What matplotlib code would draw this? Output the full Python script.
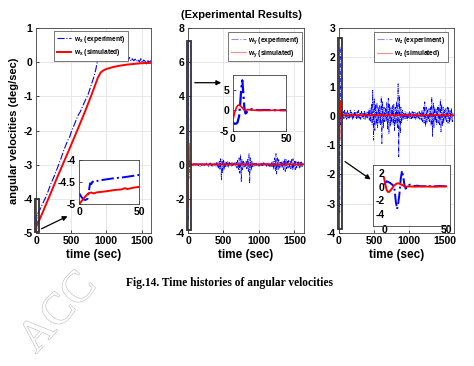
import numpy as np
import matplotlib
matplotlib.use("Agg")
import matplotlib.pyplot as plt
import matplotlib.patches as mpatches
import matplotlib.patheffects as pe

plt.rcParams['font.family'] = ['Liberation Sans', 'DejaVu Sans']
plt.rcParams['font.weight'] = 'bold'
plt.rcParams['axes.labelweight'] = 'bold'
plt.rcParams['axes.unicode_minus'] = False
plt.rcParams['mathtext.fontset'] = 'custom'
plt.rcParams['mathtext.rm'] = 'Liberation Sans:bold'
plt.rcParams['mathtext.it'] = 'Liberation Sans:bold'
plt.rcParams['mathtext.bf'] = 'Liberation Sans:bold'

# ---- w_x : zoom window (0..50 s) ----
wx_exp_t0 = [0, 2, 4, 5, 7, 8, 9, 10, 11, 12, 14, 16, 18, 20, 25, 30, 35, 40, 45, 50]
wx_exp_v0 = [-4.76, -4.85, -4.9, -4.91, -4.88, -4.7, -4.53, -4.55, -4.49, -4.5, -4.48, -4.47,
             -4.46, -4.45, -4.43, -4.41, -4.4, -4.38, -4.36, -4.34]
wx_sim_t0 = [0, 2, 4, 6, 8, 10, 12, 14, 16, 20, 25, 30, 35, 38, 40, 45, 50]
wx_sim_v0 = [-5.0, -4.93, -4.86, -4.8, -4.75, -4.74, -4.76, -4.74, -4.73, -4.72, -4.7, -4.68,
             -4.67, -4.64, -4.66, -4.63, -4.61]
# ---- w_x : rest of the run ----
wx_exp_t1 = [100, 150, 200, 250, 300, 350, 400, 430, 460, 480, 500, 550, 600, 630, 660, 700, 740,
             780, 820, 850, 870, 890, 910, 940, 980, 1020, 1060, 1100, 1140, 1180, 1220, 1260, 1290,
             1310, 1330, 1350, 1370, 1390, 1410, 1430, 1450, 1470, 1490, 1510, 1530, 1550, 1570,
             1590, 1610, 1630]
wx_exp_v1 = [-4.12, -3.9, -3.62, -3.38, -3.12, -2.85, -2.55, -2.4, -2.25, -2.18, -2.05, -1.8, -1.55,
             -1.45, -1.3, -1.12, -0.95, -0.7, -0.45, -0.22, 0.0, 0.15, 0.3, 0.45, 0.55, 0.55, 0.5,
             0.42, 0.35, 0.28, 0.22, 0.18, 0.2, 0.06, 0.14, 0.03, 0.1, 0.04, 0.09, 0.02, 0.08, 0.0,
             0.1, -0.02, 0.06, 0.03, -0.05, 0.07, -0.03, 0.05]
wx_sim_t1 = [100, 200, 300, 400, 500, 600, 700, 800, 880, 920, 960, 1000, 1100, 1200, 1300, 1400,
             1500, 1630]
wx_sim_v1 = [-4.37, -3.88, -3.38, -2.9, -2.42, -1.93, -1.43, -0.9, -0.45, -0.3, -0.24, -0.2, -0.14,
             -0.1, -0.07, -0.05, -0.03, -0.02]

# ---- w_y ----
wy_exp_t0 = [0, 1.5, 3, 4.5, 6, 7, 8, 9, 10, 11, 12, 13, 14, 16, 18, 20, 25, 30, 40, 50]
wy_exp_v0 = [-2.9, -3.3, -3.3, -3.0, -1.5, 1.5, 5.0, 7.3, 4.0, 0.4, -0.8, -0.6, -0.1, 0.1, 0.25,
             0.1, 0.0, 0.05, 0.0, 0.0]
wy_sim_t0 = [0, 1, 2, 3, 4, 5, 6, 7, 8, 9, 10, 11, 12, 14, 16, 20, 30, 50]
wy_sim_v0 = [-2.5, -1.5, -0.5, 0.3, 0.9, 1.2, 1.25, 1.1, 0.9, 0.6, 0.3, 0.0, -0.1, 0.15, 0.1, 0.0,
             0.0, 0.0]
# one row = 100 s (10 s samples), starting at t = 60
wy_exp_v1 = [0.05, -0.08, 0.1, -0.05, 0.08, -0.1, 0.06, -0.04, 0.1, -0.08,
             0.05, -0.1, 0.08, -0.05, 0.1, -0.06, 0.04, -0.1, 0.08, -0.06,
             0.1, -0.05, 0.06, -0.1, 0.08, -0.04, 0.1, -0.08, 0.05, -0.1,
             0.08, -0.06, 0.1, -0.1, 0.12, -0.15, 0.15, -0.2, 0.2, -0.3,
             0.35, -0.9, 0.3, -0.5, 0.25, -0.3, 0.2, -0.15, 0.15, -0.12,
             0.2, -0.15, 0.15, -0.1, 0.1, -0.12, 0.12, -0.1, 0.1, -0.08,
             0.12, -0.1, 0.15, -0.2, 0.25, -0.3, 0.4, -0.5, 0.6, -1.0,
             0.35, -0.3, 0.2, -0.15, 0.15, -0.1, 0.2, -0.25, 0.3, -0.4,
             0.65, -1.1, 0.4, -0.35, 0.2, -0.15, 0.1, -0.1, 0.08, -0.06,
             0.1, -0.08, 0.06, -0.1, 0.12, -0.08, 0.1, -0.06, 0.08, -0.1,
             0.12, -0.08, 0.1, -0.06, 0.08, -0.1, 0.1, -0.08, 0.12, -0.1,
             0.1, -0.12, 0.15, -0.15, 0.2, -0.3, 0.4, -0.35, 0.65, -0.55,
             0.4, -0.3, 0.3, -0.2, 0.15, -0.15, 0.2, -0.2, 0.25, -0.3,
             0.3, -0.4, 0.35, -0.25, 0.2, -0.2, 0.25, -0.15, 0.2, -0.25,
             0.3, -0.3, 0.35, -0.25, 0.25, -0.3, 0.2, -0.2, 0.15, -0.15,
             0.2, -0.2, 0.15, -0.15, 0.2, -0.15, 0.1]
wy_sim_t1 = [60, 1630]
wy_sim_v1 = [0.02, 0.02]

# ---- w_z ----
wz_exp_t0 = [0, 2, 4.5, 7, 8.5, 9.5, 10.5, 11.5, 12.5, 13.5, 14.5, 15.5, 16.5, 17.5, 19, 21, 24,
             27, 30, 35, 40, 45, 50]
wz_exp_v0 = [0.3, 0.8, 0.6, 0.25, -0.45, -2.2, -3.3, -2.4, -0.9, 1.2, 2.35, 1.5, 0.2, -0.3, 0.2,
             0.3, 0.1, 0.15, 0.05, 0.1, 0.05, 0.1, 0.05]
wz_sim_t0 = [0, 1, 2, 3, 4, 5, 6.5, 8, 10, 11.5, 13, 14.5, 16, 18, 20, 25, 30, 40, 50]
wz_sim_v0 = [1.3, 0.4, -0.45, -0.75, -0.8, -0.6, -0.25, 0.15, 0.45, 0.5, 0.4, 0.25, 0.1, 0.0,
             0.05, 0.0, 0.05, 0.0, 0.05]
wz_exp_v1 = [0.15, -0.1, 0.2, -0.05, 0.12, -0.12, 0.18, -0.08, 0.1, -0.1,
             0.2, -0.05, 0.15, -0.12, 0.1, -0.1, 0.18, -0.06, 0.12, -0.1,
             0.15, -0.08, 0.2, -0.1, 0.1, -0.12, 0.16, -0.05, 0.12, -0.1,
             0.18, -0.12, 0.1, -0.08, 0.15, -0.1, 0.2, -0.15, 0.25, -0.2,
             0.4, -0.3, 0.88, -0.83, 0.6, -0.5, 0.4, -0.3, 0.45, -0.4,
             0.3, -0.25, 0.35, -0.3, 0.65, -0.95, 0.5, -0.4, 0.3, -0.2,
             0.25, -0.2, 0.45, -0.45, 0.6, -0.6, 0.4, -0.35, 0.3, -0.25,
             0.35, -0.3, 0.4, -0.5, 0.3, -0.3, 0.5, -0.4, 1.1, -1.4,
             0.7, -0.6, 0.3, -0.25, 0.2, -0.15, 0.12, -0.1, 0.15, -0.12,
             0.1, -0.15, 0.12, -0.08, 0.15, -0.12, 0.1, -0.1, 0.15, -0.08,
             0.12, -0.1, 0.15, -0.12, 0.1, -0.1, 0.12, -0.08, 0.15, -0.12,
             0.1, -0.15, 0.2, -0.2, 0.3, -0.25, 0.48, -0.37, 0.3, -0.25,
             0.2, -0.15, 0.25, -0.2, 0.3, -0.35, 0.65, -0.7, 0.45, -0.4,
             0.3, -0.2, 0.25, -0.3, 0.3, -0.25, 0.35, -0.3, 0.55, -0.55,
             0.4, -0.35, 0.3, -0.25, 0.2, -0.15, 0.25, -0.2, 0.3, -0.25,
             0.3, -0.25, 0.2, -0.15, 0.25, -0.2, 0.1]
wz_sim_t1 = [60, 1630]
wz_sim_v1 = [0.02, 0.02]

# sample times of the noisy part (one sample every 10 s)
t_noise = np.arange(60, 1621, 10)

BLUE = '#0000ff'
RED = '#ff0000'
W, H = 474, 366

fig = plt.figure(figsize=(4.74, 3.66), dpi=100)


def fx(px):
    return px / W


def fy(py):
    return 1 - py / H


def add_ax(x0, x1, y0, y1):
    return fig.add_axes((fx(x0), fy(y1), fx(x1) - fx(x0), fy(y0) - fy(y1)))


def style(ax, grid=True):
    for s in ax.spines.values():
        s.set_color('#404040')
        s.set_linewidth(0.6)
    ax.tick_params(direction='in', length=2, width=0.5, labelsize=7.5, pad=2.5)
    if grid:
        ax.grid(True, color='#e3e3e3', linewidth=0.6)
        ax.set_axisbelow(True)


def bold_ticks(ax):
    for lab in ax.get_xticklabels() + ax.get_yticklabels():
        lab.set_fontweight('bold')


# watermark, its top cut off by the chart
fig.text(fx(36), fy(354), 'ACC', rotation=47.7, rotation_mode='anchor',
         ha='left', va='baseline', fontsize=32, family='Liberation Serif',
         weight='normal', color='white', zorder=-3,
         path_effects=[pe.withStroke(linewidth=0.9, foreground='#c2c2c2')])
fig.patches.append(mpatches.Rectangle((0, fy(261)), 1, 1, transform=fig.transFigure,
                                      facecolor='white', edgecolor='none', zorder=-2))

panels = [
    dict(x=(36, 151), ylim=(-5, 1), yt=np.arange(-5, 2, 1), sub='x',
         e0=(wx_exp_t0, wx_exp_v0), e1=(wx_exp_t1, wx_exp_v1),
         s0=(wx_sim_t0, wx_sim_v0), s1=(wx_sim_t1, wx_sim_v1),
         box=(-4.98, -4.0), leg=(0.80, 0.985), thick=True),
    dict(x=(188, 304), ylim=(-4, 8), yt=np.arange(-4, 9, 2), sub='y',
         e0=(wy_exp_t0, wy_exp_v0), e1=(t_noise, wy_exp_v1),
         s0=(wy_sim_t0, wy_sim_v0), s1=(wy_sim_t1, wy_sim_v1),
         box=(-3.8, 7.25), leg=(0.985, 0.98), thick=False),
    dict(x=(339, 454), ylim=(-4, 3), yt=np.arange(-4, 4, 1), sub='z',
         e0=(wz_exp_t0, wz_exp_v0), e1=(t_noise, wz_exp_v1),
         s0=(wz_sim_t0, wz_sim_v0), s1=(wz_sim_t1, wz_sim_v1),
         box=(-3.85, 2.67), leg=(0.95, 0.98), thick=False),
]

axes = []
for p in panels:
    ax = add_ax(p['x'][0], p['x'][1], 28, 233)
    style(ax)
    te = list(p['e0'][0]) + list(p['e1'][0])
    ve = list(p['e0'][1]) + list(p['e1'][1])
    ts = list(p['s0'][0]) + list(p['s1'][0])
    vs = list(p['s0'][1]) + list(p['s1'][1])
    if p['thick']:
        ax.plot(te, ve, '-.', color=BLUE, lw=0.8, label=r'w$_x$ (experiment)')
        ax.plot(ts, vs, '-', color=RED, lw=1.4, label=r'w$_x$ (simulated)')
    else:
        ax.plot(te, ve, '-.', color=BLUE, lw=0.5, label=r'w$_%s$ (experiment)' % p['sub'])
        ax.plot(ts, vs, '-', color=RED, lw=1.3, label=r'w$_%s$ (simulated)' % p['sub'])
    ax.set_xlim(0, 1635)
    ax.set_ylim(*p['ylim'])
    ax.set_xticks([0, 500, 1000, 1500])
    ax.set_yticks(p['yt'])
    bold_ticks(ax)
    ax.set_xlabel('time (sec)', fontsize=8.5, labelpad=2, fontweight='bold')
    leg = ax.legend(loc='upper right', bbox_to_anchor=p['leg'], fancybox=False,
                    prop={'size': 4.8, 'weight': 'bold'},
                    framealpha=1, edgecolor='#404040', borderpad=0.4, labelspacing=0.35,
                    handlelength=2.2, handletextpad=0.4, borderaxespad=0)
    leg.get_frame().set_linewidth(0.5)
    if not p['thick']:
        for ln in leg.get_lines():
            ln.set_alpha(0.45)
            ln.set_linewidth(0.8)
    ax.add_patch(mpatches.Rectangle((-15, p['box'][0]), 55, p['box'][1] - p['box'][0],
                                    fill=False, edgecolor='#303030', lw=1.3, clip_on=False,
                                    zorder=5))
    axes.append(ax)

axes[0].set_ylabel('angular velocities (deg/sec)', fontsize=8, labelpad=3, fontweight='bold')

fig.text(fx(241), fy(15), '(Experimental Results)', ha='center', va='center', fontsize=8,
         weight='bold')

# insets
ins1 = add_ax(79.3, 139.3, 160, 204)
style(ins1, grid=False)
ins1.plot(wx_exp_t0, wx_exp_v0, '-.', color=BLUE, lw=1.4)
ins1.plot(wx_sim_t0, wx_sim_v0, '-', color=RED, lw=1.4)
ins1.set_xlim(0, 50)
ins1.set_ylim(-5, -4)
ins1.set_xticks([0, 50])
ins1.set_yticks([-5, -4.5, -4])
ins1.set_yticklabels(['-5', '-4.5', '-4'])
bold_ticks(ins1)

ins2 = add_ax(232.7, 286, 75, 130.7)
style(ins2, grid=False)
ins2.plot(wy_exp_t0, wy_exp_v0, '-.', color=BLUE, lw=1.6)
ins2.plot(wy_sim_t0, wy_sim_v0, '-', color=RED, lw=1.2)
ins2.set_xlim(0, 50)
ins2.set_ylim(-5, 8.6)
ins2.set_xticks([0, 50])
ins2.set_yticks([-5, 0, 5])
bold_ticks(ins2)

ins3 = add_ax(373, 450, 165, 226)
style(ins3, grid=False)
ins3.plot(wz_exp_t0, wz_exp_v0, '-.', color=BLUE, lw=1.4)
ins3.plot(wz_sim_t0, wz_sim_v0, '-', color=RED, lw=1.4)
ins3.set_xlim(-8.9, 53.2)
ins3.set_ylim(-5.8, 3.2)
ins3.set_xticks([0, 50])
ins3.set_yticks([-4, -2, 0, 2])
ins3.tick_params(axis='y', length=0, pad=-8.5)
ins3.tick_params(axis='x', length=0, pad=-0.5)
bold_ticks(ins3)

# arrows from the boxes to the zoom windows
arrows = [((39, 230), (70, 215)), ((192, 82.7), (224, 82.7)), ((342.7, 160), (373, 181))]
for (x0, y0), (x1, y1) in arrows:
    fig.add_artist(mpatches.FancyArrowPatch((fx(x0), fy(y0)), (fx(x1), fy(y1)),
                                            transform=fig.transFigure, arrowstyle='-|>',
                                            mutation_scale=7, color='black', lw=0.9))

fig.text(fx(229), fy(283), 'Fig.14. Time histories of angular velocities', ha='center',
         va='center', fontsize=8.3, family='Liberation Serif', weight='bold')

fig.savefig('out.png', dpi=100)
